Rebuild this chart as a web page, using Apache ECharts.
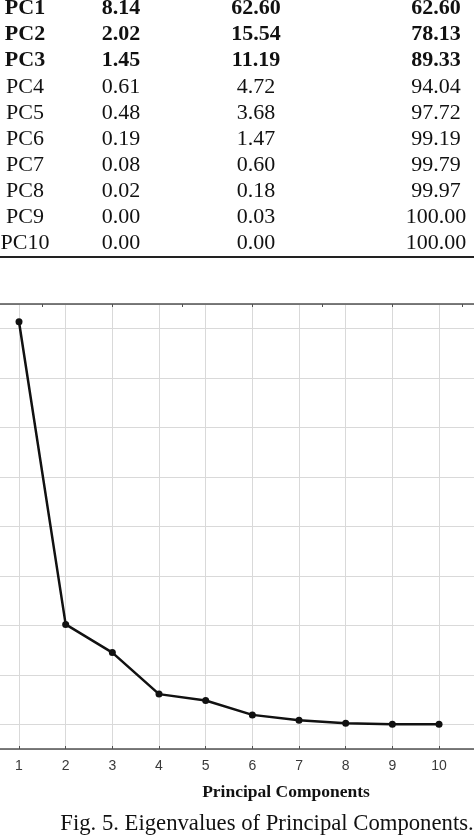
<!DOCTYPE html>
<html><head><meta charset="utf-8">
<script src="https://cdn.jsdelivr.net/npm/echarts@6/dist/echarts.min.js"></script>
<style>html,body{margin:0;padding:0;background:#fff}#c{width:474px;height:836px}</style>
</head><body><div id="c"></div>
<script>
const pcLabels = ['PC1','PC2','PC3','PC4','PC5','PC6','PC7','PC8','PC9','PC10'];
const eigenvalues = [8.14, 2.02, 1.45, 0.61, 0.48, 0.19, 0.08, 0.02, 0.00, 0.00];
const variancePct = ['62.60','15.54','11.19','4.72','3.68','1.47','0.60','0.18','0.03','0.00'];
const cumulativePct = ['62.60','78.13','89.33','94.04','97.72','99.19','99.79','99.97','100.00','100.00'];
const components = [1,2,3,4,5,6,7,8,9,10];
const boldRows = 3;

const chart = echarts.init(document.getElementById('c'));
const serif = '"Liberation Serif","Times New Roman",serif';
const graphics = [];
const colX = [25, 121, 256, 436];
pcLabels.forEach((lab, i) => {
  const y = 8.5 + i * 26.1;
  const vals = [lab, eigenvalues[i].toFixed(2), variancePct[i], cumulativePct[i]];
  vals.forEach((t, j) => {
    graphics.push({type:'text', x: colX[j], y: y, style:{text: t, fill:'#111',
      font: (i < boldRows ? 'bold ' : '') + '22px ' + serif, textAlign:'center', textVerticalAlign:'middle'}});
  });
});
graphics.push({type:'line', shape:{x1:0,y1:257,x2:474,y2:257}, style:{stroke:'#222', lineWidth:1.8}});
graphics.push({type:'text', x:286, y:792, style:{text:'Principal Components', fill:'#111',
  font:'bold 17.5px ' + serif, textAlign:'center', textVerticalAlign:'middle'}});
graphics.push({type:'text', x:267, y:824, style:{text:'Fig. 5. Eigenvalues of Principal Components.', fill:'#111',
  font:'22.7px ' + serif, textAlign:'center', textVerticalAlign:'middle'}});

chart.setOption({
  animation:false,
  grid:{left:-27.67, right:-11.7, top:304, bottom:87, containLabel:false, outerBoundsMode:'none'},
  xAxis:[{
    type:'value', min:0, max:11, interval:1, position:'bottom',
    axisLine:{show:true, onZero:false, lineStyle:{color:'#505050', width:1.5}},
    axisTick:{show:true, inside:true, length:3, lineStyle:{color:'#505050'}},
    axisLabel:{color:'#3a3a3a', fontSize:14, fontFamily:'"Liberation Sans",Arial,sans-serif', margin:10,
      formatter: v => (v >= 1 && v <= 10) ? String(v) : ''},
    splitLine:{show:true, lineStyle:{color:'#d9d9d9', width:1}}
  },{
    type:'value', min:0, max:7.333, interval:1, position:'top',
    axisLine:{show:true, onZero:false, lineStyle:{color:'#505050', width:1.5}},
    axisTick:{show:true, inside:true, length:3, lineStyle:{color:'#505050'}},
    axisLabel:{show:false}, splitLine:{show:false}
  }],
  yAxis:{
    type:'value', min:-0.5, max:8.5, splitNumber:9,
    axisLine:{show:false}, axisTick:{show:false}, axisLabel:{show:false},
    splitLine:{show:true, lineStyle:{color:'#d9d9d9', width:1}}
  },
  series:[{
    type:'line', xAxisIndex:0,
    data: components.map((c, i) => [c, eigenvalues[i]]),
    symbol:'circle', symbolSize:7,
    lineStyle:{color:'#111', width:2.5},
    itemStyle:{color:'#111'}
  }],
  graphic: graphics
});
</script></body></html>
